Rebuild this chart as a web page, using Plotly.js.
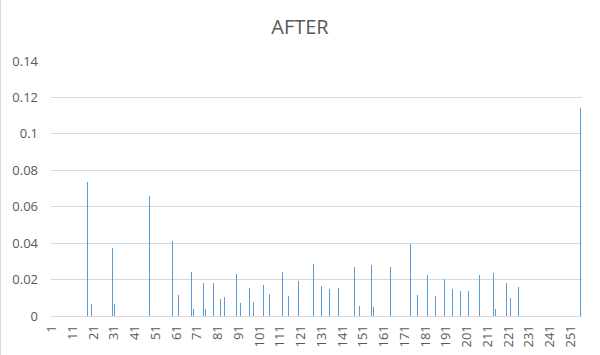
<!DOCTYPE html>
<html>
<head>
<meta charset="utf-8">
<script src="https://cdn.plot.ly/plotly-3.0.1.min.js"></script>
<style>
html,body{margin:0;padding:0;background:#fff;}
#chart{width:600px;height:355px;}
#edge{position:absolute;left:0;top:0;width:1px;height:355px;background:#D9D9D9;}
</style>
</head>
<body>
<div id="chart"></div>
<div id="edge"></div>
<script>
// Bin numbers (categories 1..256) that have non-zero values
var bins = [18, 20, 30, 31, 48, 59, 62, 68, 69, 74, 75, 79, 82, 84, 90, 92, 96, 98,
            103, 106, 112, 115, 120, 127, 131, 135, 139, 147, 149, 155, 156, 164,
            174, 177, 182, 186, 190, 194, 198, 202, 207, 214, 215, 220, 222, 226, 256];
var values = [0.0733, 0.0066, 0.0373, 0.0066, 0.066, 0.0413, 0.0114, 0.024, 0.0039,
              0.018, 0.0039, 0.018, 0.0094, 0.0105, 0.023, 0.0072, 0.0154, 0.0077,
              0.0169, 0.0121, 0.024, 0.011, 0.0191, 0.0285, 0.0164, 0.0147, 0.0153,
              0.0268, 0.0055, 0.0279, 0.005, 0.0268,
              0.0397, 0.0114, 0.0224, 0.0108, 0.0202, 0.0147, 0.0136, 0.0136, 0.0224,
              0.0235, 0.0037, 0.018, 0.0098, 0.0158, 0.1143];
var xTickVals = [1, 11, 21, 31, 41, 51, 61, 71, 81, 91, 101, 111, 121, 131, 141, 151,
                 161, 171, 181, 191, 201, 211, 221, 231, 241, 251];
var xTickText = ["1", "11", "21", "31", "41", "51", "61", "71", "81", "91", "101", "111",
                 "121", "131", "141", "151", "161", "171", "181", "191", "201", "211",
                 "221", "231", "241", "251"];
var yTickVals = [0, 0.02, 0.04, 0.06, 0.08, 0.1, 0.12, 0.14];
var yTickText = ["0", "0.02", "0.04", "0.06", "0.08", "0.1", "0.12", "0.14"];

var font = "Open Sans, Liberation Sans, sans-serif";
var trace = {
  type: "bar",
  x: bins,
  y: values,
  width: 0.47,
  marker: {color: "#5B9BD5", line: {width: 0}},
  hoverinfo: "x+y"
};
var layout = {
  width: 600,
  height: 355,
  margin: {l: 51, r: 18, t: 61, b: 39, pad: 0},
  paper_bgcolor: "#ffffff",
  plot_bgcolor: "#ffffff",
  showlegend: false,
  bargap: 0,
  title: {text: "AFTER", x: 0.5, xanchor: "center", y: 0.925, yanchor: "middle",
          font: {family: font, size: 20, color: "#595959"}},
  xaxis: {
    type: "linear",
    range: [0.5, 256.5],
    tickmode: "array",
    tickvals: xTickVals,
    ticktext: xTickText,
    tickangle: -90,
    showgrid: false,
    zeroline: false,
    showline: true,
    linecolor: "#D9D9D9",
    linewidth: 1,
    ticks: "",
    ticklabelstandoff: 3,
    tickfont: {family: font, size: 13, color: "#595959"},
    fixedrange: true
  },
  yaxis: {
    range: [0, 0.14],
    tickmode: "array",
    tickvals: yTickVals,
    ticktext: yTickText,
    showgrid: true,
    gridcolor: "#D9D9D9",
    gridwidth: 1,
    zeroline: false,
    showline: false,
    ticks: "",
    ticklabelstandoff: 12,
    tickfont: {family: font, size: 13, color: "#595959"},
    fixedrange: true
  }
};
Plotly.newPlot("chart", [trace], layout, {displayModeBar: false, staticPlot: true});
</script>
</body>
</html>
